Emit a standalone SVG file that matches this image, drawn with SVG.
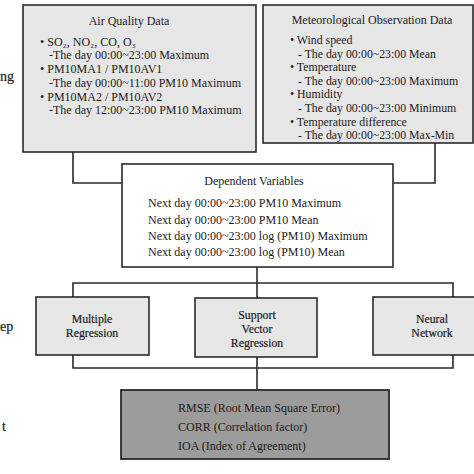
<svg xmlns="http://www.w3.org/2000/svg" width="474" height="474" viewBox="0 0 474 474">
<style>
text{font-family:"Liberation Serif","Times New Roman",serif;fill:#1a1a1a;font-size:12px}
.box{fill:#e6e6e6;stroke:#2a2a2a;stroke-width:1.6}
.wbox{fill:#ffffff;stroke:#2a2a2a;stroke-width:1.6}
.dbox{fill:#9c9c9c;stroke:#2a2a2a;stroke-width:1.8}
.c{text-anchor:middle}
.met{font-size:11.8px}
.mdl{font-size:11.8px;stroke:#1a1a1a;stroke-width:0.2}
.side{font-size:14px;stroke:#1a1a1a;stroke-width:0.2}
#connectors path{fill:none;stroke:#2a2a2a;stroke-width:1.6}
</style>
<rect width="474" height="474" fill="#ffffff"/>
<g id="connectors">
<path d="M73 152V183H122"/>
<path d="M435 143V183H393"/>
<path d="M257 267V298"/>
<path d="M73 297V283H453V297"/>
<path d="M73 355V368H453V355"/>
<path d="M257 357V390"/>
</g>
<g id="air-quality">
<rect class="box" x="23" y="5" width="233" height="147"/>
<text class="c" x="129" y="25">Air Quality Data</text>
<text x="40" y="46">• SO₂, NO₂, CO, O₃</text>
<text x="49" y="59">-The day 00:00~23:00 Maximum</text>
<text x="40" y="73">• PM10MA1 / PM10AV1</text>
<text x="49" y="87">-The day 00:00~11:00 PM10 Maximum</text>
<text x="40" y="101">• PM10MA2 / PM10AV2</text>
<text x="49" y="114">-The day 12:00~23:00 PM10 Maximum</text>
</g>
<g id="meteorological">
<rect class="box" x="263" y="5" width="210" height="138"/>
<text class="c" x="372" y="24">Meteorological Observation Data</text>
<text class="met" x="290" y="44">• Wind speed</text>
<text class="met" x="298" y="57.6">- The day 00:00~23:00 Mean</text>
<text class="met" x="290" y="71.2">• Temperature</text>
<text class="met" x="298" y="84.8">- The day 00:00~23:00 Maximum</text>
<text class="met" x="290" y="98.4">• Humidity</text>
<text class="met" x="298" y="112">- The day 00:00~23:00 Minimum</text>
<text class="met" x="290" y="125.6">• Temperature difference</text>
<text class="met" x="298" y="139.2">- The day 00:00~23:00 Max-Min</text>
</g>
<g id="dependent">
<rect class="wbox" x="122" y="164" width="271" height="103"/>
<text class="c" x="254" y="185">Dependent Variables</text>
<text x="148" y="207">Next day 00:00~23:00 PM10 Maximum</text>
<text x="148" y="224">Next day 00:00~23:00 PM10 Mean</text>
<text x="148" y="240">Next day 00:00~23:00 log (PM10) Maximum</text>
<text x="148" y="256">Next day 00:00~23:00 log (PM10) Mean</text>
</g>
<g id="multiple-regression">
<rect class="box" x="36" y="297" width="113" height="58"/>
<text class="c mdl" x="92" y="323">Multiple</text>
<text class="c mdl" x="92" y="337">Regression</text>
</g>
<g id="svr">
<rect class="box" x="195" y="298" width="122" height="59"/>
<text class="c mdl" x="257" y="319">Support</text>
<text class="c mdl" x="257" y="333">Vector</text>
<text class="c mdl" x="257" y="347">Regression</text>
</g>
<g id="neural-network">
<rect class="box" x="373" y="297" width="102" height="58"/>
<text class="c mdl" x="432" y="323">Neural</text>
<text class="c mdl" x="432" y="337">Network</text>
</g>
<g id="results">
<rect class="dbox" x="121" y="390" width="268" height="69"/>
<text x="178" y="412">RMSE (Root Mean Square Error)</text>
<text x="178" y="431">CORR (Correlation factor)</text>
<text x="178" y="450">IOA (Index of Agreement)</text>
</g>
<g id="side-labels">
<text class="side" x="0" y="81">ng</text>
<text class="side" x="0" y="331">ep</text>
<text class="side" x="2" y="431">t</text>
</g>
</svg>
